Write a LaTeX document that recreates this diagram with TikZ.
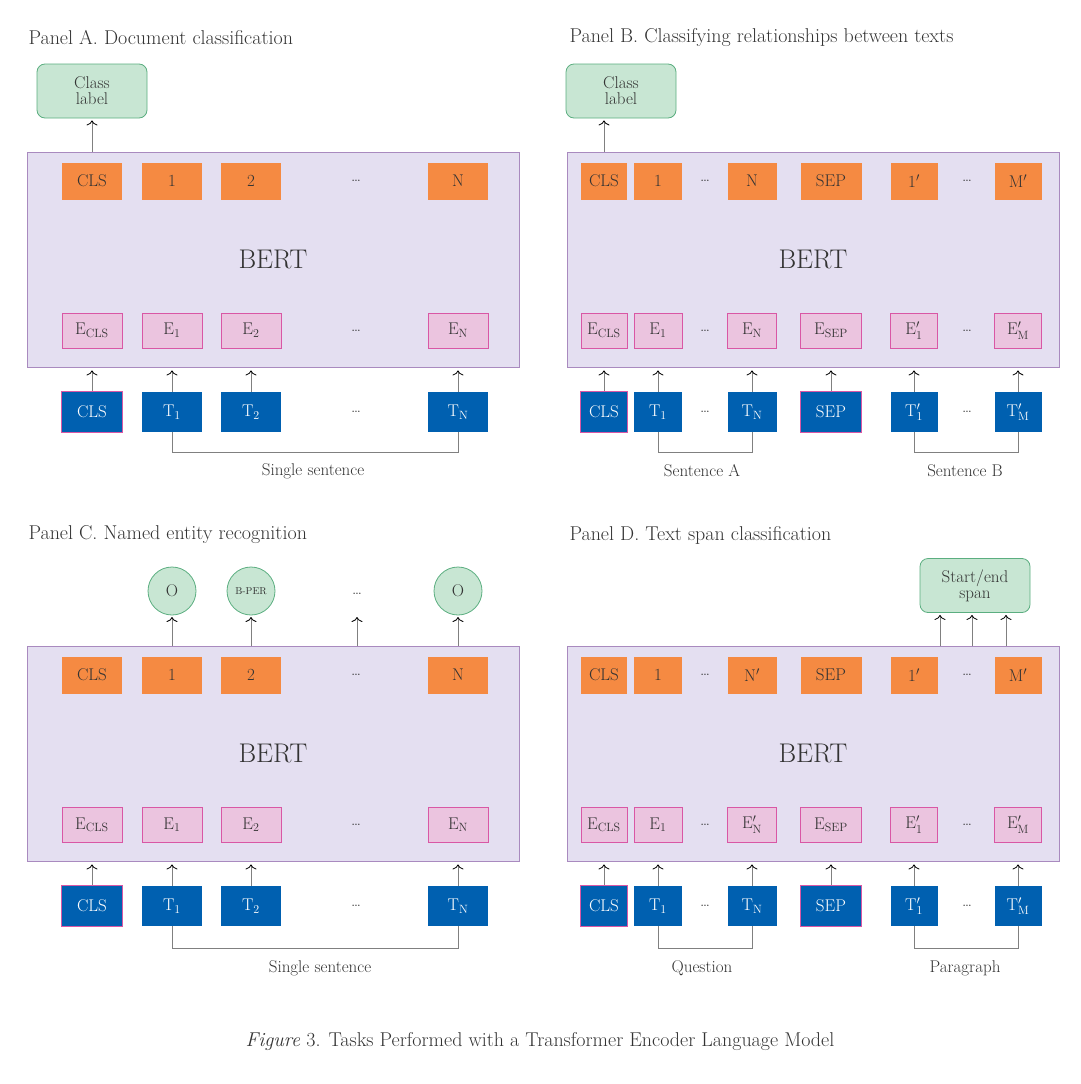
\documentclass[tikz,border=0pt]{standalone}
\usepackage{tikz}
\usetikzlibrary{arrows.meta}
\definecolor{tokor}{HTML}{F58A42}
\definecolor{tokpk}{HTML}{EBC4DF}
\definecolor{tokpkb}{HTML}{D957A5}
\definecolor{tokbl}{HTML}{0060B0}
\definecolor{bertf}{HTML}{E4DFF1}
\definecolor{bertb}{HTML}{A98ABF}
\definecolor{grf}{HTML}{C8E6D3}
\definecolor{grb}{HTML}{5BAE80}
\definecolor{txt}{HTML}{333333}
\newcommand\tokf{\fontsize{17}{20}\selectfont}
\begin{document}
\begin{tikzpicture}[x=1pt,y=-1pt,
  tok/.style={minimum height=37pt,minimum width=#1,inner sep=0pt,font=\tokf,text=txt},
  otok/.style={tok=#1,fill=tokor},
  etok/.style={tok=#1,fill=tokpk,draw=tokpkb,line width=0.8pt,minimum height=35pt},
  ttok/.style={tok=#1,fill=tokbl,text=white,minimum height=40pt},
  bert/.style={fill=bertf,draw=bertb,line width=0.8pt,minimum width=492pt,minimum height=215pt,font=\fontsize{27}{30}\selectfont,text=txt},
  lab/.style={fill=grf,draw=grb,line width=0.8pt,rounded corners=8pt,minimum width=110pt,minimum height=54pt,align=center,font=\fontsize{17}{18}\selectfont,text=txt,inner sep=0pt},
  circ/.style={circle,fill=grf,draw=grb,line width=0.8pt,minimum size=48pt,inner sep=0pt,font=\tokf,text=txt},
  arr/.style={draw=gray,line width=0.8pt,-{To[length=5pt,width=11pt,black]}},
  brk/.style={draw=gray,line width=0.8pt},
  dots/.style={font=\tokf,text=txt},
  title/.style={anchor=west,font=\fontsize{20}{22}\selectfont,text=txt},
  sub/.style={font=\tokf,text=txt}]
\useasboundingbox (0,0) rectangle (1080,1084);

% ---------- Panel A ----------
\node[title] (tA) at (25,38) {Panel A. Document classification};
\node[bert] (bA) at (273,259.5) {BERT};
\foreach \n/\x/\o/\e/\t in {c/92/CLS/{E$_{\mathrm{CLS}}$}/CLS, a/172/1/{E$_1$}/{T$_1$}, b/251/2/{E$_2$}/{T$_2$}, z/458/N/{E$_{\mathrm{N}}$}/{T$_{\mathrm{N}}$}}{
  \node[otok=60pt] (A-o-\n) at (\x,181) {\o};
  \node[etok=60pt] (A-e-\n) at (\x,330.5) {\e};
  \node[ttok=60pt] (A-t-\n) at (\x,412) {\t};
  \draw[arr,shorten >=3pt] (A-t-\n.north) -- (A-t-\n.north |- bA.south);
}
\draw[tokpkb,line width=0.8pt] (A-t-c.south west) rectangle (A-t-c.north east);
\node[dots] (A-d1) at (356,181) {\dots};
\node[dots] (A-d2) at (356,331) {\dots};
\node[dots] (A-d3) at (356,412) {\dots};
\node[lab] (A-lab) at (92,91) {Class\\[-2pt]label};
\draw[arr,shorten >=2pt] (bA.north -| A-lab.south) -- (A-lab.south);
\coordinate (A-b1) at (172,452); \coordinate (A-b2) at (458,452);
\draw[brk] (A-t-a.south) -- (A-b1) -- (A-b2) -- (A-t-z.south);
\node[sub] (A-s) at (313,471) {Single sentence};

% ---------- Panel C ----------
\node[title] (tC) at (25,535) {Panel C. Named entity recognition};
\node[bert] (bC) at (273,753.5) {BERT};
\foreach \n/\x/\o/\e/\t in {c/92/CLS/{E$_{\mathrm{CLS}}$}/CLS, a/172/1/{E$_1$}/{T$_1$}, b/251/2/{E$_2$}/{T$_2$}, z/458/N/{E$_{\mathrm{N}}$}/{T$_{\mathrm{N}}$}}{
  \node[otok=60pt] (C-o-\n) at (\x,675) {\o};
  \node[etok=60pt] (C-e-\n) at (\x,824.5) {\e};
  \node[ttok=60pt] (C-t-\n) at (\x,906) {\t};
  \draw[arr,shorten >=3pt] (C-t-\n.north) -- (C-t-\n.north |- bC.south);
}
\draw[tokpkb,line width=0.8pt] (C-t-c.south west) rectangle (C-t-c.north east);
\node[dots] (C-d1) at (356,675) {\dots};
\node[dots] (C-d2) at (356,825) {\dots};
\node[dots] (C-d3) at (356,906) {\dots};
\node[circ] (C-c1) at (172,591) {O};
\node[circ] (C-c2) at (251,591) {\fontsize{10}{12}\selectfont B-PER};
\node[dots] (C-c3) at (357,594) {\dots};
\node[circ] (C-c4) at (458,591) {O};
\foreach \k/\x in {1/172,2/251,3/357,4/458}{
  \coordinate (C-ab\k) at (\x,646);
  \draw[arr] (C-ab\k) -- (\x,617);
}
\coordinate (C-b1) at (172,948); \coordinate (C-b2) at (458,948);
\draw[brk] (C-t-a.south) -- (C-b1) -- (C-b2) -- (C-t-z.south);
\node[sub] (C-s) at (320,968) {Single sentence};

% ---------- Panel B ----------
\node[title] (tB) at (566,38) {Panel B. Classifying relationships between texts};
\node[bert] (bB) at (813,259.5) {BERT};
\foreach \n/\x/\w/\o/\e/\t in {c/604/46/CLS/{E$_{\mathrm{CLS}}$}/CLS, a/658/48/1/{E$_1$}/{T$_1$}, z/752/49/N/{E$_{\mathrm{N}}$}/{T$_{\mathrm{N}}$}, s/831/61/SEP/{E$_{\mathrm{SEP}}$}/SEP, p/914/47/{1$'$}/{E$'_1$}/{T$'_1$}, m/1018/47/{M$'$}/{E$'_{\mathrm{M}}$}/{T$'_{\mathrm{M}}$}}{
  \node[otok=\w pt] (B-o-\n) at (\x,181) {\o};
  \node[etok=\w pt] (B-e-\n) at (\x,330.5) {\e};
  \node[ttok=\w pt] (B-t-\n) at (\x,412) {\t};
  \draw[arr,shorten >=3pt] (B-t-\n.north) -- (B-t-\n.north |- bB.south);
}
\draw[tokpkb,line width=0.8pt] (B-t-c.south west) rectangle (B-t-c.north east);
\draw[tokpkb,line width=0.8pt] (B-t-s.south west) rectangle (B-t-s.north east);
\foreach \k/\x in {1/705,2/967}{
  \node[dots] (B-d1\k) at (\x,181) {\dots};
  \node[dots] (B-d2\k) at (\x,331) {\dots};
  \node[dots] (B-d3\k) at (\x,412) {\dots};
}
\node[lab] (B-lab) at (621,91) {Class\\[-2pt]label};
\draw[arr,shorten >=2pt] (bB.north -| B-o-c) -- (B-o-c |- B-lab.south);
\coordinate (B-b1) at (658,452); \coordinate (B-b2) at (752,452);
\draw[brk] (B-t-a.south) -- (B-b1) -- (B-b2) -- (B-t-z.south);
\coordinate (B-b3) at (914,452); \coordinate (B-b4) at (1018,452);
\draw[brk] (B-t-p.south) -- (B-b3) -- (B-b4) -- (B-t-m.south);
\node[sub] (B-s1) at (702,471) {Sentence A};
\node[sub] (B-s2) at (965,471) {Sentence B};

% ---------- Panel D ----------
\node[title] (tD) at (566,535) {Panel D. Text span classification};
\node[bert] (bD) at (813,753.5) {BERT};
\foreach \n/\x/\w/\o/\e/\t in {c/604/46/CLS/{E$_{\mathrm{CLS}}$}/CLS, a/658/48/1/{E$_1$}/{T$_1$}, z/752/49/{N$'$}/{E$'_{\mathrm{N}}$}/{T$_{\mathrm{N}}$}, s/831/61/SEP/{E$_{\mathrm{SEP}}$}/SEP, p/914/47/{1$'$}/{E$'_1$}/{T$'_1$}, m/1018/47/{M$'$}/{E$'_{\mathrm{M}}$}/{T$'_{\mathrm{M}}$}}{
  \node[otok=\w pt] (D-o-\n) at (\x,675) {\o};
  \node[etok=\w pt] (D-e-\n) at (\x,824.5) {\e};
  \node[ttok=\w pt] (D-t-\n) at (\x,906) {\t};
  \draw[arr,shorten >=3pt] (D-t-\n.north) -- (D-t-\n.north |- bD.south);
}
\draw[tokpkb,line width=0.8pt] (D-t-c.south west) rectangle (D-t-c.north east);
\draw[tokpkb,line width=0.8pt] (D-t-s.south west) rectangle (D-t-s.north east);
\foreach \k/\x in {1/705,2/967}{
  \node[dots] (D-d1\k) at (\x,675) {\dots};
  \node[dots] (D-d2\k) at (\x,825) {\dots};
  \node[dots] (D-d3\k) at (\x,906) {\dots};
}
\node[lab] (D-lab) at (975,585.5) {Start/end\\[-2pt]span};
\foreach \k/\x in {1/940,2/972,3/1006}{
  \coordinate (D-ab\k) at (\x,646);
  \draw[arr,shorten >=2pt] (D-ab\k) -- (D-ab\k |- D-lab.south);
}
\coordinate (D-b1) at (658,948); \coordinate (D-b2) at (752,948);
\draw[brk] (D-t-a.south) -- (D-b1) -- (D-b2) -- (D-t-z.south);
\coordinate (D-b3) at (914,948); \coordinate (D-b4) at (1018,948);
\draw[brk] (D-t-p.south) -- (D-b3) -- (D-b4) -- (D-t-m.south);
\node[sub] (D-s1) at (702,968) {Question};
\node[sub] (D-s2) at (965,968) {Paragraph};

\node[font=\fontsize{20}{22}\selectfont,text=txt] (cap) at (540,1042) {\textit{Figure} 3. Tasks Performed with a Transformer Encoder Language Model};
\end{tikzpicture}
\end{document}
